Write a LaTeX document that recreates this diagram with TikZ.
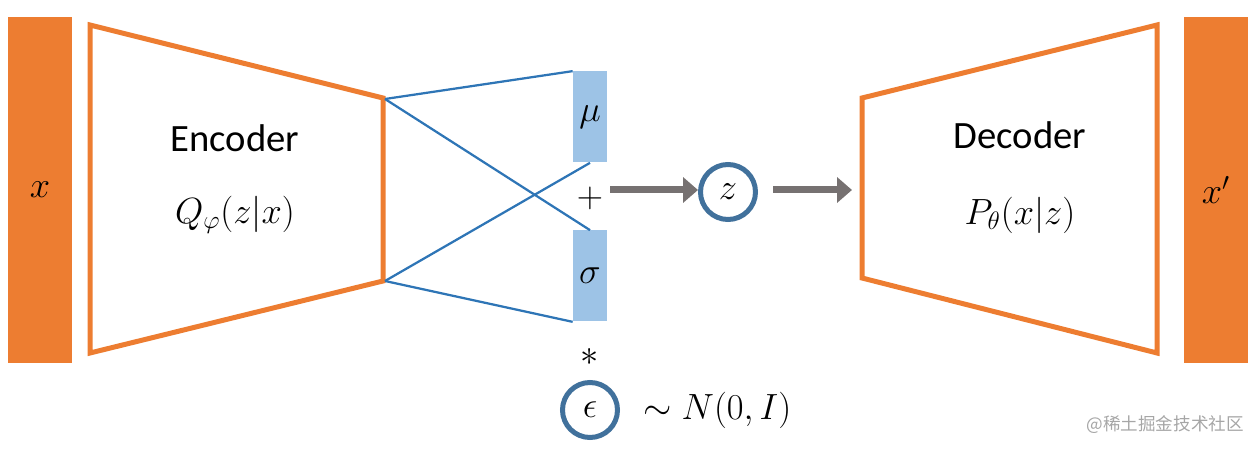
\documentclass[tikz,border=0pt]{standalone}
\usetikzlibrary{arrows.meta}
\usepackage{fontspec}
\setmainfont{Carlito}
\newfontfamily\cjk{Noto Sans CJK SC}
\usepackage{amsmath}
\begin{document}
\begin{tikzpicture}[x=0.2mm,y=-0.2mm]
    \definecolor{vae_orange}{HTML}{ED7D31}
    \definecolor{vae_blue}{HTML}{2E75B6}
    \definecolor{vae_light}{HTML}{9DC3E6}
    \definecolor{vae_ring}{HTML}{41719C}
    \definecolor{vae_gray}{HTML}{767171}
    \tikzset{
        bar/.style={fill=vae_orange, draw=none, minimum width=12.8mm, minimum height=69.2mm, inner sep=0pt},
        stat/.style={fill=vae_light, draw=none, minimum width=6.8mm, minimum height=18.2mm, inner sep=0pt},
        ring/.style={circle, draw=vae_ring, line width=1mm, minimum size=11mm, inner sep=0pt},
        big/.style={font=\fontsize{22}{26}\selectfont},
        link/.style={vae_blue, line width=0.45mm},
        flow/.style={-{Triangle[length=3mm,width=5mm]}, vae_gray, line width=1.4mm},
    }
    \useasboundingbox (0,0) rectangle (1260,450);
    %\draw[help lines] (0,0) grid (1260,450);

    % input and output
    \node[bar] (input) at (40,190) {};
    \node[big] at (input) {$x$};
    \node[bar] (output) at (1216,190) {};
    \node[big] at (output) {$x'$};

    % encoder
    \draw[vae_orange, line width=1mm, line join=miter] (90,25) -- (383,98) -- (383,281) -- (90,353) -- cycle;
    \coordinate (enc_top) at (385,99);
    \coordinate (enc_bot) at (385,281);
    \node[big] (enc) at (235,138) {Encoder};
    \node[big] (q) at (235,215) {$Q_\varphi(z|x)$};

    % latent statistics
    \node[stat] (mu) at (590,117) {};
    \node[big] at (mu) {$\mu$};
    \node[stat] (sigma) at (590,276) {};
    \node[big] at (sigma) {$\sigma$};
    \node[big] (plus) at (590,198) {$+$};
    \node[big] (star) at (590,357) {$*$};

    \draw[link] (enc_top) -- (mu.north west);
    \draw[link] (enc_top) -- (sigma.north);
    \draw[link] (enc_bot) -- (mu.south);
    \draw[link] (enc_bot) -- (sigma.south west);

    % sampling
    \node[ring, big] (z) at (728,192) {$z$};
    \node[ring, big] (eps) at (590,410) {$\epsilon$};
    \node[big, anchor=west] (prior) at (637,410) {$\sim N(0,I)$};
    \coordinate (sum) at (610,190);
    \draw[flow] (sum) -- (sum -| z.west);
    \coordinate (dec_in) at (852,190);
    \coordinate (z_out) at (773,190);
    \draw[flow] (z_out) -- (dec_in);

    % decoder
    \draw[vae_orange, line width=1mm, line join=miter] (862,98) -- (1157,25) -- (1157,353) -- (862,278) -- cycle;
    \node[big] (dec) at (1020,135) {Decoder};
    \node[big] (p) at (1020,215) {$P_\theta(x|z)$};

    \node[gray!70, font=\cjk\fontsize{10}{12}\selectfont, anchor=east] (mark) at (1250,425) {@稀土掘金技术社区};
\end{tikzpicture}
\end{document}
